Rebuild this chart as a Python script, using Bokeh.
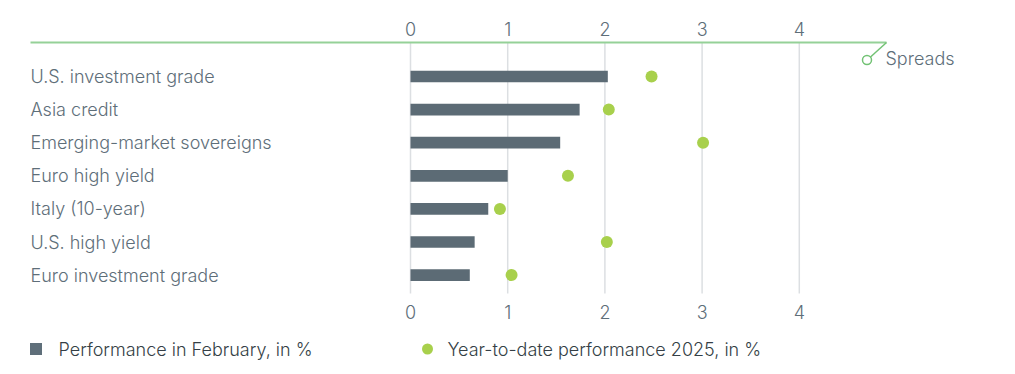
from bokeh.plotting import figure
from bokeh.models import Range1d
from bokeh.core.properties import value
from bokeh.embed import file_html
from bokeh.resources import INLINE

categories = ["U.S. investment grade", "Asia credit", "Emerging-market sovereigns",
              "Euro high yield", "Italy (10-year)", "U.S. high yield", "Euro investment grade"]
feb_perf = [2.03, 1.74, 1.54, 1.00, 0.80, 0.66, 0.61]
ytd_perf = [2.48, 2.04, 3.01, 1.62, 0.92, 2.02, 1.04]
ticks = [0, 1, 2, 3, 4]
tick_labels = ["0", "1", "2", "3", "4"]
series_names = ["Performance in February, in %", "Year-to-date performance 2025, in %"]
spreads_label = "Spreads"

W, H = 1015, 374
X0PX, XUNIT = 410.0, 97.2
Y0PX, YUNIT = 76.0, 33.1

def px2x(px):
    return (px - X0PX) / XUNIT

def px2y(py):
    return (py - Y0PX) / YUNIT

FONT = value("'Inter Light', Inter, sans-serif")
FS = "18px"
TXT = "#5e6e79"
BAR = "#5c6b75"
DOT = "#a8d04c"
GREEN = "#95d198"
GREEN_DARK = "#72c274"
GRID = "#dcdfe2"

p = figure(width=W, height=H, output_backend="svg", toolbar_location=None,
           x_range=Range1d(px2x(0), px2x(W)), y_range=Range1d(px2y(H), px2y(0)),
           min_border=0, outline_line_color=None)
p.axis.visible = False
p.grid.visible = False

rows = list(range(len(categories)))

# grid lines
p.segment(x0=ticks, y0=[px2y(42)] * len(ticks), x1=ticks, y1=[px2y(293)] * len(ticks),
          line_color=GRID, line_width=1.5)

# spreads line
p.line([px2x(30), px2x(886)], [px2y(42), px2y(42)], line_color=GREEN, line_width=2)
p.line([px2x(886), px2x(870)], [px2y(42), px2y(56.5)], line_color=GREEN_DARK, line_width=1.5)
p.scatter([px2x(866.5)], [px2y(59.5)], size=9, marker="circle", fill_color="white",
          line_color=GREEN_DARK, line_width=1.5)
p.text([px2x(885)], [px2y(57.5)], text=[spreads_label], text_font=FONT, text_font_size=FS,
       text_color=TXT, text_baseline="middle", text_align="left")

# bars & dots
p.hbar(y=rows, left=0, right=feb_perf, height=11.7 / YUNIT, fill_color=BAR, line_color=None)
p.scatter(ytd_perf, rows, size=12, marker="circle", fill_color=DOT, line_color=None)

# category labels
p.text([px2x(30)] * len(categories), rows, text=categories, text_font=FONT,
       text_font_size=FS, text_color=TXT, text_baseline="middle", text_align="left")

# tick labels top and bottom
p.text(ticks, [px2y(28)] * len(ticks), text=tick_labels, text_font=FONT, text_font_size=FS,
       text_color=TXT, text_baseline="middle", text_align="center")
p.text(ticks, [px2y(311.5)] * len(ticks), text=tick_labels, text_font=FONT, text_font_size=FS,
       text_color=TXT, text_baseline="middle", text_align="center")

# legend
p.scatter([px2x(35.5)], [px2y(348.5)], size=12, marker="square", fill_color="#5f6f7a", line_color=None)
p.scatter([px2x(427)], [px2y(348.5)], size=11, marker="circle", fill_color=DOT, line_color=None)
p.text([px2x(58), px2x(447)], [px2y(348.5)] * 2, text=series_names, text_font=FONT,
       text_font_size=FS, text_color="#353f46", text_baseline="middle", text_align="left")

open("out.html", "w").write(file_html(p, INLINE))
